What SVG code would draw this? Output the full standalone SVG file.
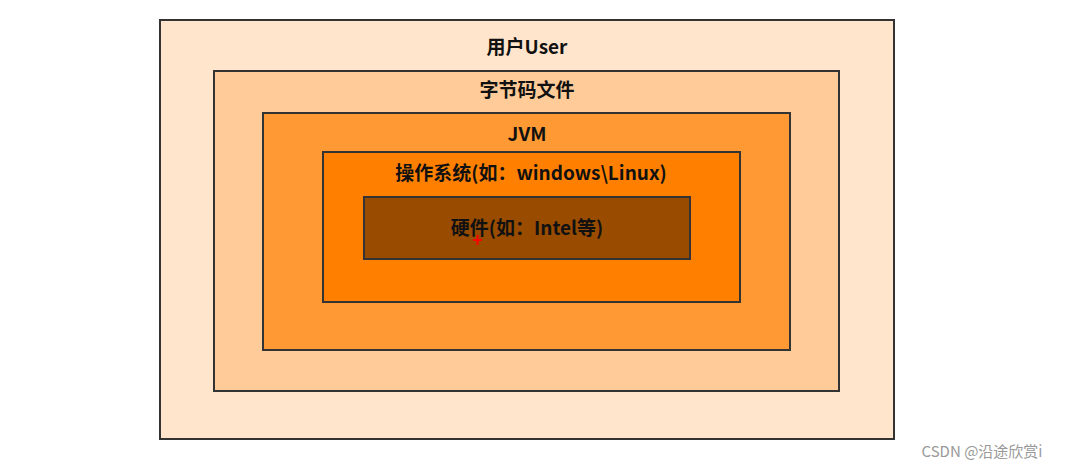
<svg xmlns="http://www.w3.org/2000/svg" width="1072" height="469" viewBox="0 0 1072 469">
<style>
rect{stroke:#333;stroke-width:2}
text{font-family:"Noto Sans CJK SC","Open Sans",sans-serif;font-weight:bold;font-size:19px;fill:#111;text-anchor:middle}
</style>
<rect x="0" y="0" width="1072" height="469" fill="#fff" style="stroke:none"/>
<g id="user"><rect x="160" y="20" width="734" height="419" fill="#FFE5CC"/><text x="527" y="54">用户User</text></g>
<g id="bytecode"><rect x="214" y="71" width="625" height="320" fill="#FFCC99"/><text x="527" y="97">字节码文件</text></g>
<g id="jvm"><rect x="263" y="113" width="527" height="237" fill="#FF9933"/><text x="527" y="141">JVM</text></g>
<g id="os"><rect x="323" y="152" width="417" height="150" fill="#FF8000"/><text x="531" y="180">操作系统(如：windows\Linux)</text></g>
<g id="hw"><rect x="364" y="197" width="326" height="62" fill="#994C00"/><text x="527" y="235">硬件(如：Intel等)</text></g>
<g id="connectors"><path d="M473 240h9M477.5 235v10" stroke="#f00" stroke-width="2"/></g>
<text x="982" y="457" style="font-weight:normal;font-size:15px;fill:#999">CSDN @沿途欣赏i</text>
</svg>
